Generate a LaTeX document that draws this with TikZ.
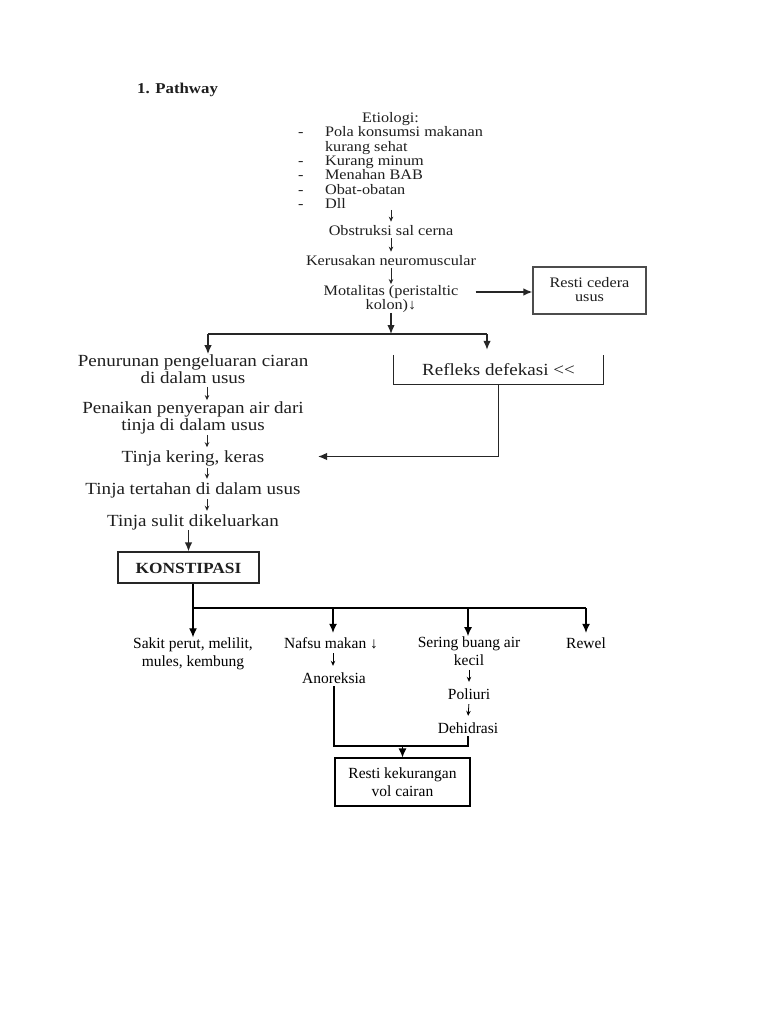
\documentclass[tikz,border=0pt]{standalone}
\usepackage{fontspec}
\setmainfont{Liberation Serif}
\newfontfamily\topfont[FakeStretch=1.12]{Liberation Serif}
\newfontfamily\midfont[FakeStretch=1.12]{Liberation Serif}
\usetikzlibrary{arrows.meta}
\newcommand\lowstrut{\rule[-0.15\baselineskip]{0pt}{\baselineskip}}
\begin{document}
\begin{tikzpicture}[x=1pt,y=-1pt,
  txt/.style={inner sep=0pt, align=center, execute at begin node=\lowstrut, execute at end node=\lowstrut},
  toptxt/.style={txt, font=\topfont\fontsize{14.5}{14.3}\selectfont, text=black!88},
  etiostyle/.style={inner sep=0pt, font=\topfont\fontsize{14.5}{14.3}\selectfont, text=black!88},
  midtxt/.style={txt, font=\midfont\fontsize{17}{17}\selectfont, text=black!88},
  bottxt/.style={txt, font=\fontsize{15.5}{18}\selectfont, text=black},
  arr/.style={-{Latex[length=9pt,width=7.5pt]}, line width=1.3pt, draw=black!85},
  sarr/.style={-{Stealth[length=5pt,width=4.5pt]}, line width=1pt, draw=black!85, shorten <=1pt, shorten >=1pt},
  ln/.style={line width=1.3pt, draw=black!85},
  barr/.style={-{Latex[length=9pt,width=8pt]}, line width=1.1pt, draw=black},
  bsarr/.style={-{Stealth[length=5pt,width=4.5pt]}, line width=0.8pt, draw=black, shorten <=2pt, shorten >=2pt},
  bln/.style={line width=1.1pt, draw=black},
  box/.style={draw, line width=1.3pt}
]
\fill[white] (0,0) rectangle (768,1024);
\useasboundingbox (0,0) rectangle (768,1024);

% title
\node[txt, font=\midfont\bfseries\fontsize{15}{16}\selectfont, text=black!88, anchor=west] (title) at (137,88) {1. Pathway};

% top section
\node[etiostyle] (etio) at (390.5,162.5) {\begin{tabular}{@{}l@{}l@{}}
\multicolumn{2}{@{}c@{}}{Etiologi:}\\
\makebox[27pt][l]{-} & Pola konsumsi makanan\\
 & kurang sehat\\
\makebox[27pt][l]{-} & Kurang minum\\
\makebox[27pt][l]{-} & Menahan BAB\\
\makebox[27pt][l]{-} & Obat-obatan\\
\makebox[27pt][l]{-} & Dll
\end{tabular}};
\node[toptxt] (obst) at (391,230) {Obstruksi sal cerna};
\node[toptxt] (kerus) at (391,260) {Kerusakan neuromuscular};
\node[toptxt] (motal) at (391,299) {Motalitas (peristaltic\\kolon)↓};
\node[toptxt, box, draw=black!70, minimum width=113pt, minimum height=47pt] (resti1) at (589.5,290.5) {Resti cedera\\usus};

\draw[sarr, shorten <=0pt] ([yshift=3pt]etio.south -| obst.north) -- (obst.north);
\draw[sarr] (obst.south) -- (kerus.north);
\draw[sarr] (kerus.south) -- (motal.north);
\draw[arr] ([xshift=17pt,yshift=7pt]motal.east) -- ([yshift=7pt]motal.east -| resti1.west);

% branch
\coordinate (br) at (391,334);
\coordinate (brL) at (208,334);
\coordinate (brR) at (487,334);
\draw[arr] (motal.south) -- (br);
\draw[ln] (brL) -- (brR);

% left column
\node[midtxt] (penur) at (193,370) {Penurunan pengeluaran ciaran\\di dalam usus};
\node[midtxt] (penaik) at (193,417.5) {Penaikan penyerapan air dari\\tinja di dalam usus};
\node[midtxt] (tker) at (193,457.5) {Tinja kering, keras};
\node[midtxt] (ttert) at (193,489) {Tinja tertahan di dalam usus};
\node[midtxt] (tsul) at (193,521) {Tinja sulit dikeluarkan};
\node[midtxt, box, draw=black!85, font=\midfont\bfseries\fontsize{15.5}{17}\selectfont, minimum width=141pt, minimum height=31pt] (kons) at (188.5,567.5) {KONSTIPASI};

\coordinate (lcol) at (207,400);
\draw[arr] (brL) -- (brL |- penur.north);
\draw[sarr] (penur.south -| lcol) -- (penaik.north -| lcol);
\draw[sarr] (penaik.south -| lcol) -- (tker.north -| lcol);
\draw[sarr] (tker.south -| lcol) -- (ttert.north -| lcol);
\draw[sarr] (ttert.south -| lcol) -- (tsul.north -| lcol);
\draw[arr] (tsul.south -| kons.north) -- (kons.north);

% right: refleks
\node[midtxt, minimum width=209pt, minimum height=29pt] (refl) at (498.5,369.5) {Refleks defekasi <\kern0pt<};
\draw[arr, shorten >=5pt] (brR) -- (brR |- refl.north);
\draw[ln] (refl.north west) -- (refl.south west) -- (refl.south east) -- (refl.north east);
\coordinate (tk) at (318,456.5);
\draw[arr] (refl.south) |- (tk);

% bottom section
\coordinate (k0) at (193,608);
\coordinate (k1) at (333,608);
\coordinate (k2) at (468,608);
\coordinate (k3) at (586,608);
\node[bottxt] (sakit) at (193,653.5) {Sakit perut, melilit,\\mules, kembung};
\node[bottxt] (nafsu) at (331,642) {Nafsu makan ↓};
\node[bottxt] (anor) at (334,677) {Anoreksia};
\node[bottxt] (sering) at (469,652) {Sering buang air\\kecil};
\node[bottxt] (poli) at (469,693) {Poliuri};
\node[bottxt] (dehid) at (468,727) {Dehidrasi};
\node[bottxt] (rewel) at (586,642) {Rewel};
\node[bottxt, draw, line width=1.1pt, minimum width=135pt, minimum height=48pt] (resti2) at (402.5,782) {\raisebox{-2pt}{Resti kekurangan}\\\raisebox{-2pt}{vol cairan}};

\draw[bln] (kons.south -| k0) -- (k0) -- (k3);
\draw[barr] (k0) -- (k0 |- sakit.north);
\draw[barr] (k1) -- (k1 |- nafsu.north);
\draw[barr] (k2) -- (k2 |- sering.north);
\draw[barr] (k3) -- (k3 |- rewel.north);
\draw[bsarr] (nafsu.south -| k1) -- (anor.north -| k1);
\draw[bsarr] (sering.south) -- (poli.north);
\draw[bsarr] (poli.south) -- (dehid.north);

\coordinate (j) at (402.5,746);
\draw[bln] (anor.south) |- (j) -| (dehid.south);
\draw[barr] (j) -- (resti2.north);
\end{tikzpicture}
\end{document}
